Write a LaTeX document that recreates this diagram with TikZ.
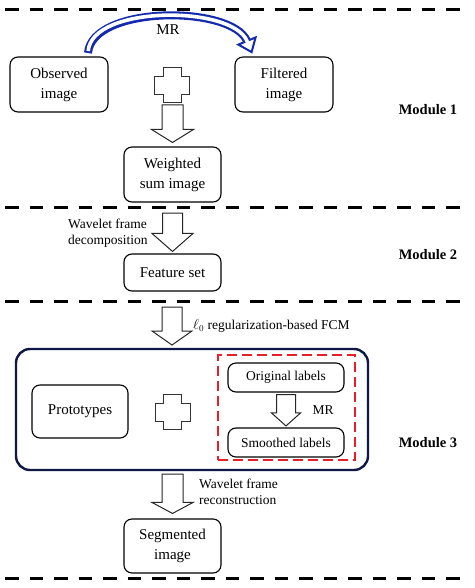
\documentclass[tikz,border=0pt]{standalone}
\usepackage{fontspec}
\setmainfont{Liberation Serif}
\usetikzlibrary{calc}

\definecolor{mrblue}{RGB}{20,42,172}
\definecolor{navy}{RGB}{16,24,70}
\definecolor{dashred}{RGB}{232,30,40}

% hollow block arrow pointing down: top, tip, shaft half width, head half width, head length
\newcommand{\blockdown}[5]{%
  \draw[blockarrow] let \p1=#1, \p2=#2 in
    (\x2-#3pt,\y1) -- (\x2+#3pt,\y1) -- (\x2+#3pt,\y2+#5pt) -- (\x2+#4pt,\y2+#5pt)
    -- (\x2,\y2) -- (\x2-#4pt,\y2+#5pt) -- (\x2-#3pt,\y2+#5pt) -- cycle;}

% outlined plus sign around a named coordinate
\newcommand{\plussign}[1]{%
  \draw[plusshape] (#1) +(-9,-17.5) -- +(9,-17.5) -- +(9,-9) -- +(17.5,-9)
    -- +(17.5,9) -- +(9,9) -- +(9,17.5) -- +(-9,17.5) -- +(-9,9)
    -- +(-17.5,9) -- +(-17.5,-9) -- +(-9,-9) -- cycle;}

\begin{document}
\begin{tikzpicture}[
  x=1pt, y=-1pt,
  font=\fontsize{15}{20}\selectfont,
  box/.style={
    draw, line width=1.1pt, rounded corners=8pt, align=center, inner sep=2pt
  },
  smalltxt/.style={font=\fontsize{13.5}{16}\selectfont},
  blockarrow/.style={draw=black!85, line width=1pt, fill=white, line join=miter},
  plusshape/.style={draw=black!80, line width=0.9pt, fill=white},
  sepline/.style={line width=3pt, dash pattern=on 13.5pt off 11pt},
  modlbl/.style={font=\fontsize{14.5}{17}\selectfont\bfseries},
  lbl/.style={smalltxt, align=left, anchor=west, inner sep=0pt},
]
\useasboundingbox (0,0) rectangle (474,588);

% module separators
\draw[sepline] (5,10) -- (463,10);
\draw[sepline] (5,207) -- (463,207);
\draw[sepline] (5,301) -- (463,301);
\draw[sepline] (5,578) -- (463,578);

% Module 1
\node[box, minimum width=98pt, minimum height=55pt] (obs) at (59,84.5) {Observed\\image};
\node[box, minimum width=98pt, minimum height=55pt] (filt) at (284,84.5) {Filtered\\image};
\node[box, minimum width=97pt, minimum height=55pt] (wsum) at (172.5,174.5) {Weighted\\sum image};
\node[modlbl] (mod1) at (428,110) {Module 1};

\coordinate (plusA) at (172,85);
\plussign{plusA}
\coordinate (a1top) at (172,105);
\blockdown{(a1top)}{([yshift=4pt]wsum.north)}{10.5}{21}{13}

% MR curved arrow
\coordinate (mrs) at (88,53);
\coordinate (mre) at (247,41);
\draw[mrblue, line width=8pt] (mrs) .. controls (92,5) and (232,5) .. (mre);
\draw[mrblue, line width=2pt, fill=white, line join=miter]
  (mre) +(8.6,-3.6) -- +(4.6,11.1) -- +(-8.6,3.6) -- cycle;
\draw[white, line width=3.6pt, shorten <=2pt]
  (mrs) .. controls (92,5) and (232,5) .. (mre) -- ++(0.77,1.85);
\node (mrtop) at (168,30) {MR};

% Module 2
\node[box, minimum width=97pt, minimum height=37pt] (feat) at (172.5,272.5) {Feature set};
\coordinate (a2top) at (172,213);
\blockdown{(a2top)}{([yshift=2pt]feat.north)}{10}{20.5}{18}
\node[lbl] (decomp) at (68,233) {Wavelet frame\\decomposition};
\node[modlbl] (mod2) at (428,255) {Module 2};

% Module 3
\coordinate (a3top) at (172,307);
\coordinate (a3tip) at (172,345);
\blockdown{(a3top)}{(a3tip)}{10}{20}{14}
\node[lbl] (fcm) at (193,326) {$\ell_0$ regularization-based FCM};

\node[draw=navy, line width=2.4pt, rounded corners=14pt,
  minimum width=352pt, minimum height=121pt] (frame) at (192,409.5) {};
\node[box, minimum width=96pt, minimum height=53pt] (proto) at (80,411.5) {Prototypes};
\coordinate (plusB) at (172.5,412);
\plussign{plusB}

\node[draw=dashred, line width=2.5pt, dash pattern=on 10pt off 5pt,
  minimum width=137pt, minimum height=105pt] (lblgrp) at (286.5,407.5) {};
\node[box, smalltxt, minimum width=116pt, minimum height=29pt] (orig) at (286,377.5) {Original labels};
\node[box, smalltxt, minimum width=116pt, minimum height=29pt] (smooth) at (286,442.5) {Smoothed labels};
\blockdown{([yshift=-2pt]orig.south)}{([yshift=1.5pt]smooth.north)}{9.5}{14.5}{13}
\node[smalltxt] (mrlow) at (323,410) {MR};
\node[modlbl] (mod3) at (428,443) {Module 3};

\node[box, minimum width=97pt, minimum height=54pt] (seg) at (172.5,546) {Segmented\\image};
\blockdown{([yshift=-3pt]frame.south)}{([yshift=5pt]seg.north)}{10.5}{20.5}{11}
\node[lbl] (recon) at (199,492) {Wavelet frame\\reconstruction};

\end{tikzpicture}
\end{document}
